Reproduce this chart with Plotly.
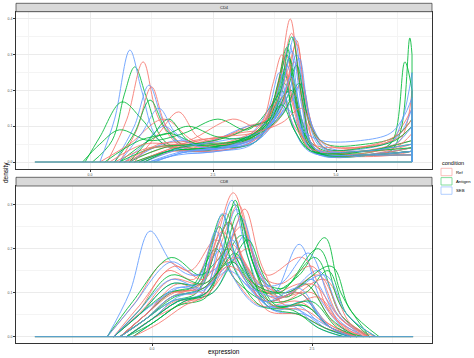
import plotly.graph_objects as go

# ---------------- data ----------------
conditions = ["Ref", "Antigen", "SEB"]
cond_colors = ["#F8766D", "#00BA38", "#619CFF"]
panel_names = ["CD4", "CD8"]

cd4_data_range = [-1.12, 6.545]
cd8_data_range = [-1.83, 4.08]

cd4_xticks = [0, 2.5, 5.0]
cd4_xticklabels = ["0.0", "2.5", "5.0"]
cd8_xticks = [0, 2.5]
cd8_xticklabels = ["0.0", "2.5"]
cd4_yticks = [0.0, 0.1, 0.2, 0.3, 0.4]
cd4_yticklabels = ["0.0", "0.1", "0.2", "0.3", "0.4"]
cd8_yticks = [0.0, 0.1, 0.2, 0.3]
cd8_yticklabels = ["0.0", "0.1", "0.2", "0.3"]

cd4_ref = [
    [(0.7,0),(1.3,0.03),(1.8,0.05),(2.4,0.04),(3.0,0.06),(3.55,0.1),(3.85,0.24),(4.07,0.40),(4.28,0.2),(4.55,0.04),(4.9,0.02),(5.6,0.015),(6.2,0.02),(6.545,0.03)],
    [(0.35,0),(0.75,0.12),(1.08,0.28),(1.4,0.12),(1.9,0.04),(2.7,0.04),(3.3,0.07),(3.75,0.18),(3.98,0.3),(4.22,0.15),(4.55,0.03),(5.5,0.02),(6.545,0.02)],
    [(0.6,0),(0.95,0.09),(1.25,0.21),(1.55,0.1),(2.0,0.04),(2.9,0.05),(3.5,0.09),(3.9,0.26),(4.1,0.36),(4.32,0.18),(4.6,0.03),(5.6,0.02),(6.545,0.05)],
    [(0.9,0),(1.5,0.03),(2.1,0.06),(2.7,0.07),(3.2,0.1),(3.6,0.12),(4.0,0.25),(4.2,0.33),(4.42,0.15),(4.75,0.04),(5.5,0.04),(6.1,0.06),(6.545,0.15)],
    [(0.2,0),(0.8,0.05),(1.5,0.12),(2.1,0.06),(2.8,0.05),(3.4,0.08),(3.75,0.18),(3.95,0.26),(4.18,0.14),(4.5,0.03),(5.4,0.02),(6.545,0.02)],
    [(1.0,0),(1.7,0.04),(2.3,0.05),(3.0,0.08),(3.7,0.1),(4.1,0.18),(4.3,0.22),(4.52,0.1),(4.85,0.03),(5.8,0.03),(6.3,0.06),(6.545,0.2)],
    [(0.9,0),(1.4,0.08),(1.8,0.14),(2.2,0.07),(2.8,0.05),(3.4,0.07),(3.9,0.17),(4.15,0.28),(4.38,0.12),(4.7,0.03),(5.6,0.02),(6.545,0.04)],
    [(0.5,0),(1.2,0.04),(2.0,0.05),(2.7,0.07),(3.3,0.1),(3.6,0.12),(3.9,0.18),(4.15,0.1),(4.5,0.05),(5.2,0.04),(5.9,0.05),(6.3,0.07),(6.545,0.1)],
    [(1.1,0),(1.7,0.03),(2.4,0.03),(3.2,0.05),(3.8,0.12),(4.05,0.25),(4.2,0.34),(4.38,0.18),(4.62,0.04),(5.4,0.02),(6.545,0.03)],
    [(0.8,0),(1.4,0.05),(2.0,0.06),(2.9,0.12),(3.4,0.1),(3.8,0.17),(4.05,0.24),(4.3,0.12),(4.65,0.03),(5.5,0.03),(6.545,0.06)],
    [(0.7,0),(1.3,0.04),(2.1,0.04),(2.9,0.06),(3.45,0.1),(3.72,0.22),(3.9,0.3),(4.12,0.16),(4.45,0.04),(5.3,0.03),(6.2,0.04),(6.545,0.08)],
    [(0.4,0),(1.1,0.05),(1.8,0.05),(2.6,0.07),(3.3,0.08),(3.9,0.11),(4.3,0.15),(4.6,0.07),(5.0,0.04),(5.8,0.05),(6.3,0.08),(6.545,0.12)],
]

cd4_antigen = [
    [(0.05,0),(0.45,0.06),(0.7,0.19),(0.91,0.266),(1.15,0.18),(1.5,0.06),(2.1,0.03),(2.9,0.05),(3.5,0.08),(3.9,0.15),(4.1,0.2),(4.35,0.08),(4.7,0.02),(5.8,0.02),(6.545,0.03)],
    [(-0.1,0),(0.2,0.07),(0.65,0.168),(1.05,0.12),(1.5,0.05),(2.2,0.03),(2.9,0.05),(3.5,0.1),(3.78,0.18),(3.95,0.25),(4.15,0.12),(4.5,0.03),(5.5,0.02),(6.545,0.02)],
    [(0.5,0),(0.9,0.08),(1.22,0.173),(1.55,0.09),(2.0,0.04),(2.8,0.05),(3.4,0.08),(3.8,0.2),(4.0,0.3),(4.22,0.14),(4.55,0.03),(5.6,0.02),(6.545,0.04)],
    [(0.9,0),(1.6,0.03),(2.4,0.04),(3.2,0.07),(3.7,0.12),(3.95,0.22),(4.2,0.1),(4.6,0.03),(5.5,0.02),(6.1,0.03),(6.32,0.09),(6.5,0.347),(6.545,0.3)],
    [(0.8,0),(1.5,0.04),(2.2,0.05),(3.0,0.06),(3.6,0.1),(3.9,0.18),(4.1,0.2),(4.4,0.07),(4.8,0.03),(5.8,0.03),(6.15,0.06),(6.4,0.28),(6.545,0.2)],
    [(0.6,0),(1.2,0.06),(1.6,0.08),(2.2,0.05),(2.9,0.05),(3.5,0.09),(3.82,0.22),(4.0,0.32),(4.22,0.15),(4.55,0.03),(5.4,0.02),(6.545,0.03)],
    [(-0.15,0),(0.2,0.05),(0.6,0.09),(1.2,0.06),(1.9,0.08),(2.6,0.12),(3.2,0.09),(3.7,0.16),(3.9,0.2),(4.15,0.09),(4.5,0.03),(5.5,0.03),(6.545,0.05)],
    [(1.0,0),(1.6,0.03),(2.4,0.04),(3.1,0.06),(3.7,0.12),(4.0,0.2),(4.2,0.27),(4.42,0.13),(4.75,0.04),(5.6,0.04),(6.2,0.06),(6.545,0.1)],
    [(0.8,0),(1.25,0.07),(1.6,0.12),(2.0,0.06),(2.7,0.04),(3.4,0.06),(3.85,0.2),(4.1,0.35),(4.32,0.17),(4.6,0.03),(5.6,0.02),(6.545,0.03)],
    [(0.6,0),(1.3,0.04),(2.1,0.05),(2.8,0.07),(3.3,0.1),(3.65,0.12),(3.88,0.2),(4.05,0.29),(4.26,0.14),(4.6,0.03),(5.6,0.03),(6.545,0.06)],
    [(1.1,0),(1.8,0.04),(2.6,0.05),(3.3,0.07),(3.9,0.13),(4.25,0.22),(4.48,0.1),(4.8,0.05),(5.6,0.05),(6.2,0.07),(6.545,0.12)],
    [(0.3,0),(1.0,0.06),(1.6,0.08),(2.0,0.1),(2.6,0.07),(3.2,0.07),(3.65,0.12),(3.9,0.16),(4.15,0.09),(4.5,0.03),(5.5,0.03),(6.545,0.04)],
]

cd4_seb = [
    [(0.2,0),(0.5,0.12),(0.81,0.313),(1.05,0.2),(1.35,0.07),(1.8,0.03),(2.6,0.03),(3.4,0.06),(3.85,0.13),(4.1,0.18),(4.35,0.07),(4.7,0.02),(5.8,0.02),(6.545,0.03)],
    [(0.5,0),(0.9,0.1),(1.2,0.215),(1.5,0.11),(1.9,0.04),(2.7,0.04),(3.4,0.07),(3.85,0.15),(4.05,0.2),(4.3,0.08),(4.65,0.02),(5.7,0.02),(6.545,0.03)],
    [(1.0,0),(1.6,0.03),(2.4,0.03),(3.2,0.05),(3.75,0.12),(3.98,0.25),(4.15,0.35),(4.35,0.17),(4.58,0.03),(5.5,0.02),(6.545,0.03)],
    [(1.2,0),(1.9,0.03),(2.7,0.04),(3.4,0.07),(3.9,0.16),(4.2,0.3),(4.42,0.13),(4.7,0.04),(5.6,0.03),(6.1,0.05),(6.35,0.12),(6.545,0.25)],
    [(0.7,0),(1.1,0.05),(1.5,0.1),(1.9,0.06),(2.6,0.04),(3.3,0.06),(3.75,0.17),(4.0,0.27),(4.22,0.13),(4.55,0.03),(5.5,0.02),(6.545,0.04)],
    [(1.0,0),(1.8,0.04),(2.5,0.06),(3.2,0.1),(3.7,0.11),(4.1,0.17),(4.3,0.22),(4.52,0.1),(4.85,0.04),(5.7,0.04),(6.25,0.07),(6.545,0.15)],
    [(1.2,0),(1.8,0.02),(2.6,0.03),(3.3,0.05),(3.8,0.16),(4.05,0.33),(4.25,0.16),(4.5,0.03),(5.5,0.02),(6.545,0.02)],
    [(0.8,0),(1.3,0.04),(1.8,0.06),(2.4,0.04),(3.1,0.06),(3.6,0.14),(3.85,0.25),(4.08,0.12),(4.45,0.03),(5.5,0.02),(6.545,0.03)],
    [(1.3,0),(2.0,0.03),(2.8,0.04),(3.5,0.08),(4.0,0.18),(4.25,0.29),(4.47,0.12),(4.75,0.04),(5.6,0.03),(6.2,0.05),(6.545,0.1)],
    [(1.1,0),(1.9,0.04),(2.7,0.06),(3.4,0.08),(3.8,0.12),(4.0,0.15),(4.3,0.09),(4.7,0.06),(5.5,0.06),(6.1,0.08),(6.35,0.12),(6.545,0.18)],
    [(0.6,0),(1.05,0.08),(1.4,0.15),(1.75,0.08),(2.3,0.04),(3.0,0.05),(3.6,0.09),(3.9,0.18),(4.1,0.24),(4.33,0.11),(4.65,0.03),(5.6,0.02),(6.545,0.03)],
    [(1.3,0),(2.0,0.03),(2.8,0.04),(3.4,0.06),(3.85,0.18),(4.1,0.31),(4.3,0.16),(4.55,0.04),(5.5,0.03),(6.545,0.05)],
]

cd8_ref = [
    [(-0.5,0),(-0.1,0.05),(0.3,0.1),(0.7,0.11),(1.0,0.22),(1.27,0.327),(1.55,0.2),(1.85,0.09),(2.5,0.1),(2.95,0.03),(3.4,0)],
    [(-0.6,0),(-0.2,0.06),(0.25,0.15),(0.65,0.13),(0.95,0.22),(1.15,0.28),(1.45,0.17),(1.85,0.1),(2.4,0.12),(2.85,0.03),(3.3,0)],
    [(-0.4,0),(0.0,0.04),(0.35,0.08),(0.8,0.09),(1.15,0.2),(1.4,0.25),(1.7,0.14),(2.0,0.12),(2.5,0.16),(2.95,0.04),(3.4,0)],
    [(-0.7,0),(-0.25,0.08),(0.2,0.17),(0.6,0.15),(1.0,0.22),(1.3,0.13),(1.7,0.07),(2.3,0.08),(2.75,0.03),(3.2,0)],
    [(-0.4,0),(0.0,0.04),(0.4,0.07),(0.8,0.1),(1.1,0.22),(1.35,0.3),(1.62,0.17),(2.0,0.08),(2.7,0.13),(3.1,0.03),(3.5,0)],
    [(-0.5,0),(-0.1,0.05),(0.4,0.12),(0.85,0.1),(1.2,0.16),(1.5,0.2),(1.8,0.14),(2.35,0.18),(2.8,0.05),(3.25,0)],
    [(-0.5,0),(-0.1,0.04),(0.3,0.09),(0.75,0.12),(1.0,0.2),(1.2,0.26),(1.45,0.16),(1.8,0.06),(2.3,0.05),(2.7,0.02),(3.2,0)],
    [(-0.6,0),(-0.15,0.06),(0.3,0.13),(0.8,0.12),(1.3,0.18),(1.7,0.12),(2.1,0.1),(2.6,0.14),(3.0,0.04),(3.4,0)],
    [(-0.5,0),(-0.1,0.05),(0.3,0.1),(0.7,0.1),(1.1,0.24),(1.4,0.14),(1.8,0.08),(2.3,0.1),(2.75,0.03),(3.2,0)],
    [(-0.3,0),(0.1,0.03),(0.5,0.07),(0.9,0.1),(1.2,0.2),(1.45,0.29),(1.72,0.16),(2.1,0.07),(2.6,0.09),(3.0,0.02),(3.4,0)],
    [(-0.6,0),(-0.2,0.07),(0.35,0.16),(0.8,0.13),(1.05,0.18),(1.25,0.21),(1.55,0.14),(1.9,0.07),(2.4,0.06),(2.8,0.02),(3.2,0)],
    [(-0.5,0),(-0.1,0.05),(0.35,0.1),(0.8,0.11),(1.2,0.16),(1.6,0.12),(2.0,0.09),(2.5,0.12),(2.95,0.04),(3.4,0)],
]

cd8_antigen = [
    [(-0.5,0),(-0.1,0.04),(0.3,0.08),(0.7,0.1),(0.9,0.2),(1.1,0.277),(1.35,0.17),(1.8,0.1),(2.3,0.14),(2.7,0.225),(2.95,0.1),(3.4,0)],
    [(-0.5,0),(-0.1,0.05),(0.3,0.1),(0.75,0.12),(1.05,0.22),(1.3,0.3),(1.57,0.17),(1.9,0.07),(2.4,0.07),(2.8,0.02),(3.2,0)],
    [(-0.4,0),(0.0,0.04),(0.4,0.08),(0.85,0.1),(1.15,0.18),(1.4,0.23),(1.7,0.13),(2.05,0.11),(2.55,0.18),(2.95,0.05),(3.4,0)],
    [(-0.7,0),(-0.3,0.08),(0.3,0.18),(0.75,0.14),(1.0,0.17),(1.2,0.2),(1.5,0.13),(1.9,0.07),(2.4,0.07),(2.8,0.02),(3.2,0)],
    [(-0.5,0),(-0.1,0.04),(0.3,0.09),(0.75,0.11),(1.0,0.2),(1.2,0.26),(1.45,0.16),(1.85,0.08),(2.4,0.1),(2.75,0.15),(3.05,0.05),(3.5,0)],
    [(-0.6,0),(-0.2,0.05),(0.25,0.1),(0.6,0.11),(0.85,0.17),(1.0,0.2),(1.3,0.13),(1.8,0.08),(2.3,0.1),(2.7,0.03),(3.1,0)],
    [(-0.4,0),(0.0,0.03),(0.4,0.07),(0.85,0.09),(1.12,0.2),(1.3,0.31),(1.5,0.18),(1.8,0.07),(2.3,0.05),(2.7,0.02),(3.1,0)],
    [(-0.3,0),(0.1,0.04),(0.5,0.08),(0.95,0.1),(1.25,0.17),(1.5,0.22),(1.78,0.13),(2.1,0.09),(2.4,0.12),(2.8,0.04),(3.2,0)],
    [(-0.6,0),(-0.2,0.06),(0.3,0.14),(0.8,0.12),(1.25,0.17),(1.6,0.11),(2.0,0.1),(2.6,0.2),(2.95,0.07),(3.4,0)],
    [(-0.6,0),(-0.2,0.05),(0.3,0.12),(0.7,0.12),(0.9,0.19),(1.05,0.25),(1.3,0.15),(1.7,0.07),(2.2,0.06),(2.6,0.02),(3.0,0)],
    [(-0.4,0),(0.0,0.04),(0.4,0.08),(0.85,0.1),(1.15,0.2),(1.35,0.28),(1.6,0.16),(1.95,0.07),(2.5,0.08),(2.9,0.02),(3.3,0)],
    [(-0.5,0),(-0.1,0.04),(0.35,0.09),(0.8,0.11),(1.1,0.16),(1.3,0.19),(1.6,0.12),(2.1,0.1),(2.8,0.16),(3.1,0.06),(3.55,0)],
]

cd8_seb = [
    [(-0.7,0),(-0.35,0.1),(-0.03,0.24),(0.3,0.17),(0.6,0.14),(0.95,0.15),(1.2,0.18),(1.5,0.12),(1.9,0.06),(2.4,0.05),(2.8,0.02),(3.2,0)],
    [(-0.4,0),(0.0,0.04),(0.4,0.08),(0.85,0.1),(1.12,0.21),(1.32,0.29),(1.58,0.17),(1.9,0.1),(2.3,0.21),(2.65,0.08),(3.1,0)],
    [(-0.6,0),(-0.2,0.05),(0.3,0.12),(0.75,0.12),(1.0,0.2),(1.2,0.26),(1.45,0.15),(1.8,0.07),(2.3,0.07),(2.7,0.02),(3.1,0)],
    [(-0.3,0),(0.1,0.04),(0.5,0.08),(0.95,0.1),(1.25,0.18),(1.45,0.23),(1.72,0.13),(2.1,0.1),(2.6,0.15),(3.0,0.04),(3.4,0)],
    [(-0.5,0),(-0.1,0.04),(0.3,0.08),(0.8,0.1),(1.05,0.22),(1.25,0.31),(1.5,0.18),(1.85,0.07),(2.3,0.06),(2.7,0.02),(3.1,0)],
    [(-0.7,0),(-0.3,0.07),(0.3,0.17),(0.7,0.14),(0.95,0.18),(1.1,0.2),(1.4,0.13),(1.8,0.08),(2.3,0.1),(2.7,0.03),(3.1,0)],
    [(-0.4,0),(0.0,0.04),(0.4,0.08),(0.85,0.1),(1.15,0.19),(1.4,0.27),(1.68,0.15),(2.0,0.09),(2.5,0.13),(2.9,0.04),(3.3,0)],
    [(-0.5,0),(-0.1,0.05),(0.35,0.11),(0.8,0.11),(1.1,0.15),(1.35,0.18),(1.65,0.12),(2.0,0.12),(2.45,0.19),(2.85,0.06),(3.3,0)],
    [(-0.6,0),(-0.2,0.05),(0.4,0.11),(0.7,0.12),(0.85,0.18),(1.0,0.24),(1.25,0.14),(1.65,0.07),(2.2,0.07),(2.6,0.02),(3.0,0)],
    [(-0.4,0),(0.0,0.04),(0.4,0.09),(0.85,0.11),(1.05,0.17),(1.25,0.22),(1.5,0.14),(1.9,0.06),(2.4,0.08),(2.8,0.02),(3.2,0)],
    [(-0.6,0),(-0.2,0.06),(0.3,0.13),(0.8,0.11),(1.2,0.15),(1.55,0.11),(2.0,0.09),(2.7,0.14),(3.05,0.05),(3.5,0)],
    [(-0.5,0),(-0.1,0.04),(0.3,0.09),(0.75,0.11),(0.95,0.21),(1.1,0.28),(1.35,0.16),(1.75,0.08),(2.3,0.11),(2.7,0.03),(3.1,0)],
]

# ---------------- figure ----------------
W, H = 474, 358
fig = go.Figure()

LINE_W = 1.0
OPAC = 0.85


def add_panel(curve_sets, data_range, xa, ya):
    n = max(len(s) for s in curve_sets)
    for i in range(n):
        for ci, s in enumerate(curve_sets):
            if i < len(s):
                xs = [p[0] for p in s[i]]
                ys = [p[1] for p in s[i]]
                fig.add_trace(go.Scatter(
                    x=xs, y=ys, mode="lines",
                    line=dict(color=cond_colors[ci], width=LINE_W, shape="spline", smoothing=1),
                    opacity=OPAC, xaxis=xa, yaxis=ya, showlegend=False, hoverinfo="skip"))
    # closing edges of each density polygon (vertical edge at the data max, baseline)
    for ci, s in enumerate(curve_sets):
        ex, ey = [], []
        for c in s:
            if c[-1][1] > 0:
                ex += [c[-1][0], c[-1][0], None]
                ey += [0, c[-1][1], None]
        ex += [data_range[0], data_range[1]]
        ey += [0, 0]
        fig.add_trace(go.Scatter(
            x=ex, y=ey, mode="lines",
            line=dict(color=cond_colors[ci], width=LINE_W),
            opacity=OPAC, xaxis=xa, yaxis=ya, showlegend=False, hoverinfo="skip"))


add_panel([cd4_ref, cd4_antigen, cd4_seb], cd4_data_range, "x", "y")
add_panel([cd8_ref, cd8_antigen, cd8_seb], cd8_data_range, "x2", "y2")

# panel geometry (pixels)
PX_L, PX_R = 16, 432
top_panel = (11.7, 169.3)
bot_panel = (186.0, 343.3)
top_strip = (3.3, 11.7)
bot_strip = (177.3, 186.0)


def py(p):
    return 1 - p / H


def px(p):
    return p / W


xdom = [px(PX_L), px(PX_R)]

axis_common = dict(
    showline=True, mirror=True, linecolor="#333333", linewidth=0.7,
    ticks="outside", ticklen=2, tickwidth=0.5, tickcolor="#333333",
    tickfont=dict(size=3.5, color="#4D4D4D", family="Liberation Sans"),
    showgrid=True, gridcolor="#EBEBEB", gridwidth=0.7,
    zeroline=False, tickmode="array",
)

fig.update_layout(
    width=W, height=H,
    margin=dict(l=0, r=0, t=0, b=0),
    paper_bgcolor="white", plot_bgcolor="white",
    showlegend=False,
    xaxis=dict(axis_common, domain=xdom, anchor="y", range=[-1.504, 6.951],
               tickvals=cd4_xticks, ticktext=cd4_xticklabels,
               minor=dict(showgrid=True, gridcolor="#F4F4F4", gridwidth=0.5,
                          tickmode="array", tickvals=[-1.25, 1.25, 3.75, 6.25])),
    yaxis=dict(axis_common, domain=[py(top_panel[1]), py(top_panel[0])], anchor="x",
               range=[-0.0204, 0.4204], tickvals=cd4_yticks, ticktext=cd4_yticklabels,
               minor=dict(showgrid=True, gridcolor="#F4F4F4", gridwidth=0.5,
                          tickmode="array", tickvals=[0.05, 0.15, 0.25, 0.35])),
    xaxis2=dict(axis_common, domain=xdom, anchor="y2", range=[-2.125, 4.375],
                tickvals=cd8_xticks, ticktext=cd8_xticklabels,
                minor=dict(showgrid=True, gridcolor="#F4F4F4", gridwidth=0.5,
                           tickmode="array", tickvals=[-1.25, 1.25, 3.75])),
    yaxis2=dict(axis_common, domain=[py(bot_panel[1]), py(bot_panel[0])], anchor="x2",
                range=[-0.015, 0.3425], tickvals=cd8_yticks, ticktext=cd8_yticklabels,
                minor=dict(showgrid=True, gridcolor="#F4F4F4", gridwidth=0.5,
                           tickmode="array", tickvals=[0.05, 0.15, 0.25])),
)

shapes = []
annotations = []
for name, strip in zip(panel_names, [top_strip, bot_strip]):
    shapes.append(dict(type="rect", xref="paper", yref="paper",
                       x0=xdom[0], x1=xdom[1], y0=py(strip[1]), y1=py(strip[0]),
                       fillcolor="#D9D9D9", line=dict(color="#333333", width=0.7), layer="above"))
    annotations.append(dict(text=name, xref="paper", yref="paper",
                            x=(xdom[0] + xdom[1]) / 2, y=py((strip[0] + strip[1]) / 2),
                            showarrow=False, font=dict(size=4, color="#1A1A1A", family="Liberation Sans"),
                            xanchor="center", yanchor="middle"))

# axis titles
annotations.append(dict(text="expression", xref="paper", yref="paper", x=px(224), y=py(352),
                        showarrow=False, font=dict(size=6.5, color="black", family="Liberation Sans"),
                        xanchor="center", yanchor="middle"))
annotations.append(dict(text="density", xref="paper", yref="paper", x=px(6), y=py(173),
                        showarrow=False, textangle=-90,
                        font=dict(size=6.5, color="black", family="Liberation Sans"),
                        xanchor="center", yanchor="middle"))

# legend
annotations.append(dict(text="condition", xref="paper", yref="paper", x=px(440), y=py(163),
                        showarrow=False, font=dict(size=5.5, color="black", family="Liberation Sans"),
                        xanchor="left", yanchor="middle"))
key_centers = [172.0, 181.3, 190.6]
for cond, col, yc in zip(conditions, cond_colors, key_centers):
    shapes.append(dict(type="rect", xref="paper", yref="paper",
                       x0=px(441), x1=px(452), y0=py(yc + 3.7), y1=py(yc - 3.7),
                       fillcolor="rgba(0,0,0,0)", line=dict(color=col, width=0.8), opacity=0.6))
    annotations.append(dict(text=cond, xref="paper", yref="paper", x=px(454), y=py(yc),
                            showarrow=False, font=dict(size=4.3, color="black", family="Liberation Sans"),
                            xanchor="left", yanchor="middle"))

fig.update_layout(shapes=shapes, annotations=annotations)
fig.write_html("out.html",
               config={"displayModeBar": False},
               post_script="document.body.style.margin='0';document.body.style.overflow='hidden';")
